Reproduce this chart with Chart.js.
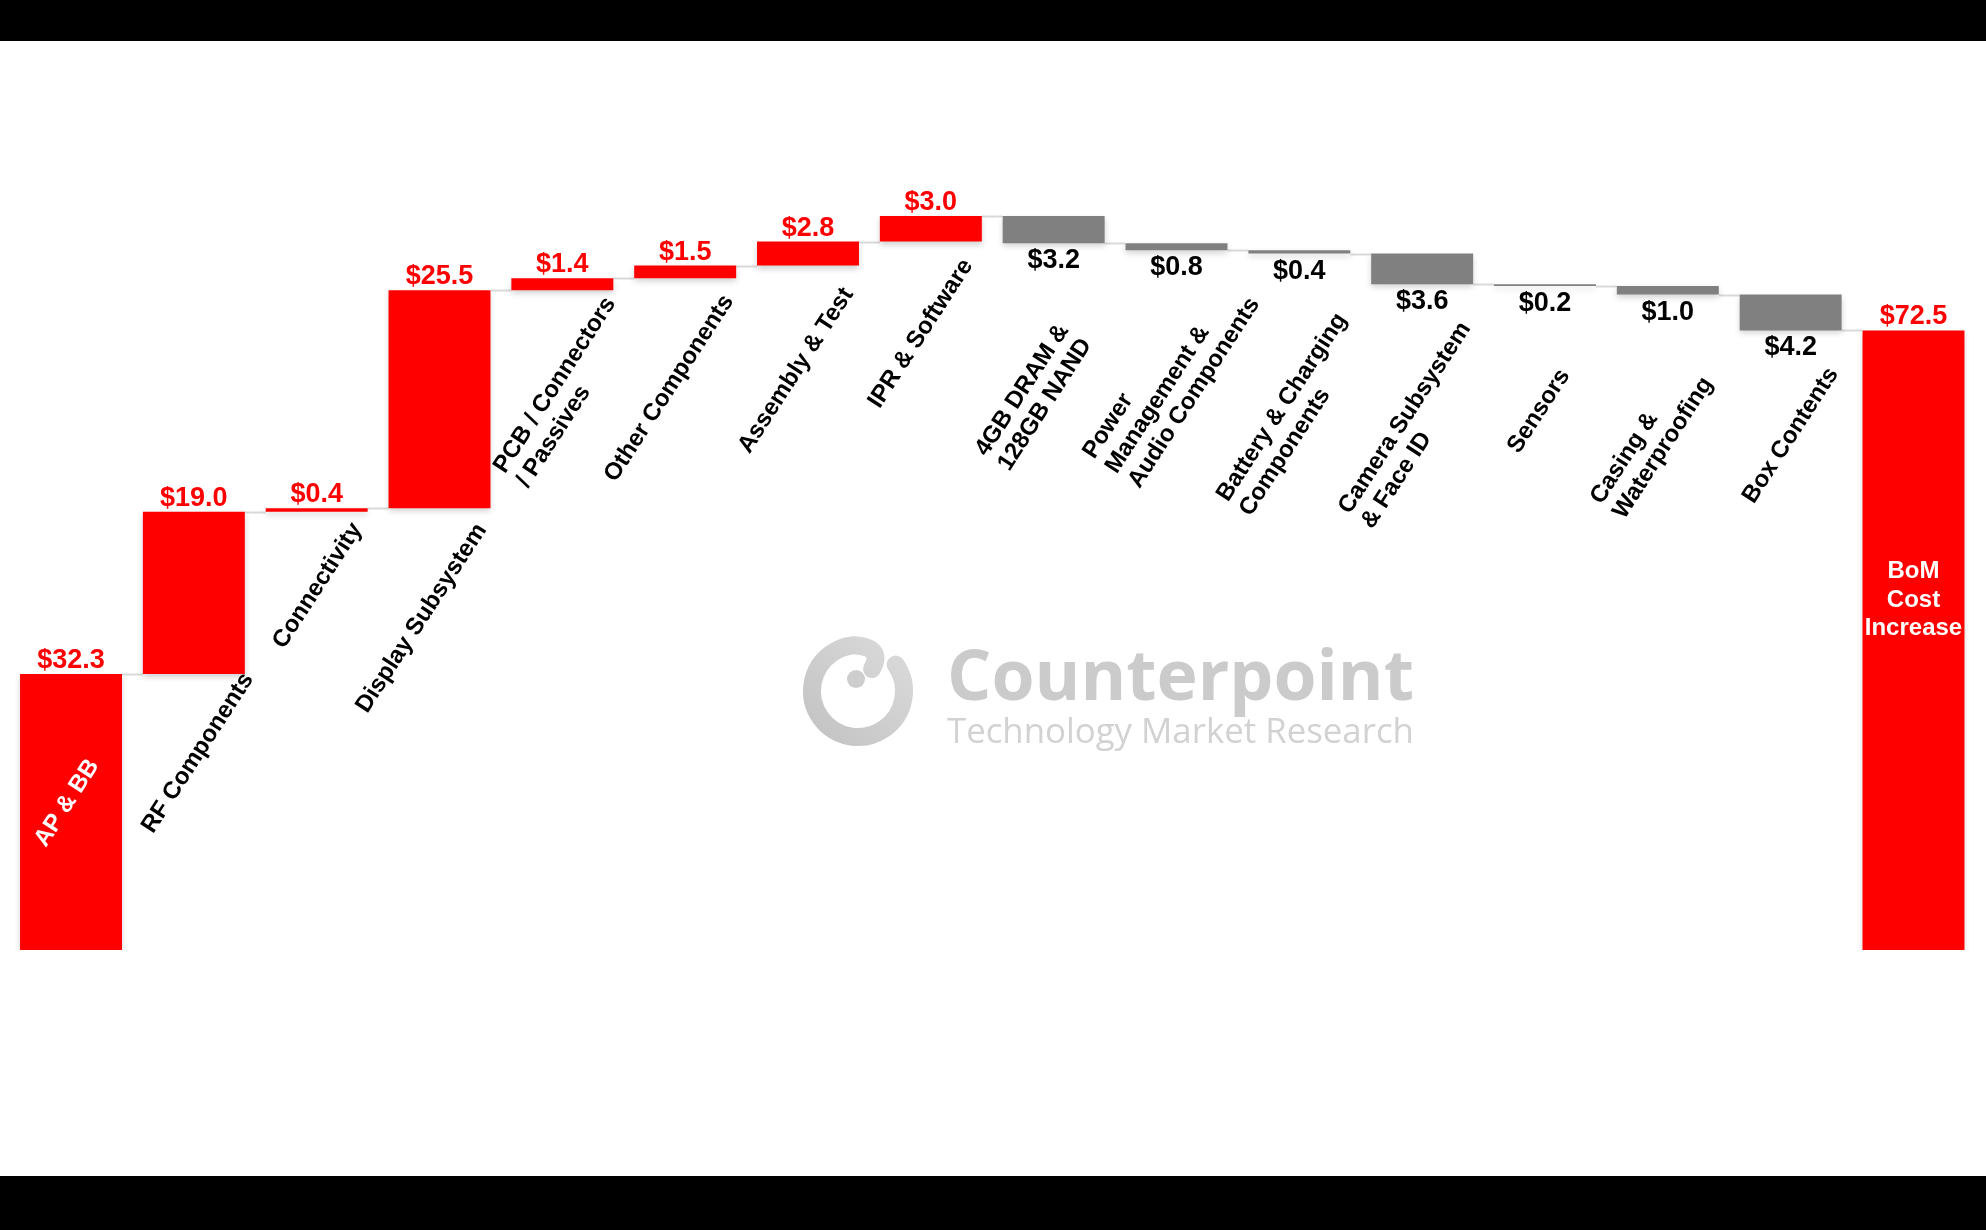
<!DOCTYPE html>
<html>
<head>
<meta charset="utf-8">
<script src="https://cdn.jsdelivr.net/npm/chart.js@4.4.1/dist/chart.umd.min.js"></script>
<style>
html,body{margin:0;padding:0;background:#000;overflow:hidden;}
canvas{display:block;}
</style>
</head>
<body>
<canvas id="c" width="1986" height="1230"></canvas>
<script>
// ---------- data ----------
const categories = [
  'AP & BB', 'RF Components', 'Connectivity', 'Display Subsystem',
  'PCB / Connectors\n/ Passives', 'Other Components', 'Assembly & Test', 'IPR & Software',
  '4GB DRAM &\n128GB NAND', 'Power\nManagement &\nAudio Components', 'Battery & Charging\nComponents',
  'Camera Subsystem\n& Face ID', 'Sensors', 'Casing &\nWaterproofing', 'Box Contents',
  'BoM\nCost\nIncrease'
];
const changes = [32.3, 19.0, 0.4, 25.5, 1.4, 1.5, 2.8, 3.0, -3.2, -0.8, -0.4, -3.6, -0.2, -1.0, -4.2];
const totalValue = 72.5;
const yMin = 0;
const yMax = 100;

// ---------- layout (label placement tweaks, px) ----------
const labelShiftX = [-4, 4, 1, -18, 4, -16, -12, -10, -20, -5, -6, -6, -6, -16, 0, 0];
const labelDropY  = [129, 79, 74, 110, 102, 110, 105, 92, 154, 128, 161, 141, 125, 146, 105, 0];

const RED = '#ff0000';
const GRAY = '#808080';
const FONT = '"Liberation Sans", Arial, sans-serif';
const ANGLE = 57 * Math.PI / 180;

// floating bars built from the changes
const floats = [];
const levels = [];
let run = 0;
changes.forEach(v => {
  const a = run, b = run + v;
  floats.push([Math.min(a, b), Math.max(a, b)]);
  run = b;
  levels.push(run);
});
floats.push([0, totalValue]);
levels.push(totalValue);
const values = changes.concat([totalValue]);
const colors = values.map((v, i) => (i === values.length - 1 || v > 0) ? RED : GRAY);

function drawRotatedBlock(ctx, text, cx, cy, color, size, lh) {
  const lines = text.split('\n');
  ctx.save();
  ctx.font = 'bold ' + size + 'px ' + FONT;
  ctx.fillStyle = color;
  ctx.translate(cx, cy);
  ctx.rotate(-ANGLE);
  ctx.textAlign = 'left';
  ctx.textBaseline = 'middle';
  let W = 0;
  lines.forEach(l => { W = Math.max(W, ctx.measureText(l).width); });
  const n = lines.length;
  lines.forEach((l, k) => ctx.fillText(l, -W / 2, (k - (n - 1) / 2) * lh));
  ctx.restore();
}

function drawLogo(ctx) {
  const cx = 858, cy = 691, r = 46;
  ctx.save();
  const sg = ctx.createRadialGradient(cx, cy + 72, 2, cx, cy + 72, 55);
  sg.addColorStop(0, 'rgba(0,0,0,0.10)');
  sg.addColorStop(1, 'rgba(0,0,0,0)');
  ctx.fillStyle = sg;
  ctx.save();
  ctx.translate(cx, cy + 72);
  ctx.scale(1, 0.08);
  ctx.beginPath();
  ctx.arc(0, 0, 55, 0, Math.PI * 2);
  ctx.fill();
  ctx.restore();

  const g = ctx.createLinearGradient(cx - r, cy + r, cx + r, cy - r);
  g.addColorStop(0, '#c3c3c3');
  g.addColorStop(1, '#dadada');
  ctx.strokeStyle = g;
  ctx.lineCap = 'round';
  ctx.lineWidth = 18;
  ctx.beginPath();
  ctx.arc(cx, cy, r, -35 * Math.PI / 180, 265 * Math.PI / 180);
  ctx.quadraticCurveTo(cx + 26, cy - 44, cx + 14, cy - 22);
  ctx.stroke();
  ctx.fillStyle = '#cdcdcd';
  ctx.beginPath();
  ctx.arc(cx - 2, cy - 12, 9, 0, Math.PI * 2);
  ctx.fill();

  const fit = (txt, weight, fam, targetW) => {
    ctx.font = weight + ' 100px ' + fam;
    const w = ctx.measureText(txt).width;
    return 100 * targetW / w;
  };
  const s1 = fit('Counterpoint', 'bold', '"Open Sans", sans-serif', 467);
  ctx.font = 'bold ' + s1 + 'px "Open Sans", sans-serif';
  ctx.fillStyle = '#cbcbcb';
  ctx.textAlign = 'left';
  ctx.textBaseline = 'alphabetic';
  ctx.fillText('Counterpoint', 947, 700);
  const s2 = fit('Technology Market Research', 'normal', '"Open Sans", sans-serif', 467);
  ctx.font = 'normal ' + s2 + 'px "Open Sans", sans-serif';
  ctx.fillStyle = '#d2d2d2';
  ctx.fillText('Technology Market Research', 947, 743);
  ctx.restore();
}

const framePlugin = {
  id: 'frame',
  beforeDraw(chart) {
    const ctx = chart.ctx;
    ctx.save();
    ctx.fillStyle = '#ffffff';
    ctx.fillRect(0, 0, chart.width, chart.height);
    ctx.fillStyle = '#000000';
    ctx.fillRect(0, 0, chart.width, 41);
    ctx.fillRect(0, 1176, chart.width, chart.height - 1176);
    ctx.restore();
  },
  beforeDatasetsDraw(chart) {
    const ctx = chart.ctx;
    drawLogo(ctx);
    const meta = chart.getDatasetMeta(0);
    const ys = chart.scales.y;
    ctx.save();
    ctx.strokeStyle = '#d9d9d9';
    ctx.lineWidth = 2;
    for (let i = 0; i < meta.data.length - 1; i++) {
      const b1 = meta.data[i], b2 = meta.data[i + 1];
      const y = Math.round(ys.getPixelForValue(levels[i])) + 0.5;
      ctx.beginPath();
      ctx.moveTo(b1.x + b1.width / 2, y);
      ctx.lineTo(b2.x - b2.width / 2, y);
      ctx.stroke();
    }
    ctx.restore();
    ctx.save();
    ctx.shadowColor = 'rgba(0,0,0,0.18)';
    ctx.shadowBlur = 6;
    ctx.shadowOffsetY = 3;
  },
  afterDatasetsDraw(chart) {
    const ctx = chart.ctx;
    ctx.restore();
    const meta = chart.getDatasetMeta(0);
    const last = meta.data.length - 1;
    meta.data.forEach((bar, i) => {
      const top = Math.min(bar.y, bar.base);
      const bottom = Math.max(bar.y, bar.base);
      const v = values[i];
      const txt = '$' + Math.abs(v).toFixed(1);
      ctx.save();
      ctx.font = 'bold 27px ' + FONT;
      ctx.textAlign = 'center';
      ctx.textBaseline = 'alphabetic';
      if (i === last || v > 0) {
        ctx.fillStyle = RED;
        ctx.fillText(txt, bar.x, top - 6);
      } else {
        ctx.fillStyle = '#000000';
        ctx.fillText(txt, bar.x, bottom + 25);
      }
      ctx.restore();

      const cat = categories[i];
      if (i === 0) {
        drawRotatedBlock(ctx, cat, bar.x + labelShiftX[i], top + labelDropY[i], '#ffffff', 24, 27);
      } else if (i === last) {
        const lines = cat.split('\n');
        ctx.save();
        ctx.font = 'bold 24px ' + FONT;
        ctx.fillStyle = '#ffffff';
        ctx.textAlign = 'center';
        ctx.textBaseline = 'middle';
        const cy = top + (bottom - top) * 0.435;
        lines.forEach((l, k) => ctx.fillText(l, bar.x, cy + (k - (lines.length - 1) / 2) * 28.5));
        ctx.restore();
      } else {
        drawRotatedBlock(ctx, cat, bar.x + labelShiftX[i], bottom + labelDropY[i], '#000000', 24, 27);
      }
    });
  }
};

new Chart(document.getElementById('c'), {
  type: 'bar',
  data: {
    labels: categories.map(c => c.replace(/\n/g, ' ')),
    datasets: [{
      data: floats,
      backgroundColor: colors,
      borderWidth: 0,
      borderSkipped: false,
      categoryPercentage: 1.0,
      barPercentage: 0.83
    }]
  },
  options: {
    responsive: false,
    animation: false,
    devicePixelRatio: 1,
    layout: { padding: { left: 9.6, right: 11.1, top: 95.5, bottom: 280 } },
    plugins: { legend: { display: false }, tooltip: { enabled: false }, title: { display: false } },
    scales: {
      x: { display: false, offset: true, grid: { display: false } },
      y: { display: false, min: yMin, max: yMax, grid: { display: false } }
    }
  },
  plugins: [framePlugin]
});
</script>
</body>
</html>
